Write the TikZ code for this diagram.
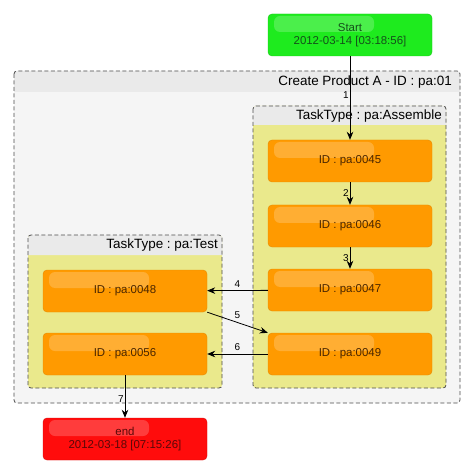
\documentclass[tikz,border=0pt]{standalone}
\usepackage{fontspec}
\setmainfont{Liberation Sans}
\usetikzlibrary{arrows.meta}
\frenchspacing

\definecolor{startgreen}{HTML}{1EEB1E}
\definecolor{startdark}{HTML}{14501A}
\definecolor{endred}{HTML}{FF0C0C}
\definecolor{enddark}{HTML}{5A0808}
\definecolor{taskorange}{HTML}{FF9A00}
\definecolor{taskbrown}{HTML}{4A2600}
\definecolor{grpyellow}{HTML}{EAE98C}
\definecolor{hdrgray}{HTML}{EAEAEA}
\definecolor{outerbg}{HTML}{F5F5F5}

\begin{document}
\begin{tikzpicture}[
    x=1bp, y=-1bp,
    every node/.style={font=\fontsize{11.5}{13.5}\selectfont, align=center, inner sep=2pt},
    box/.style={rounded corners=4bp, minimum width=164bp, minimum height=42bp,
        path picture={\fill[white, opacity=0.2, rounded corners=6bp]
            ([xshift=6bp, yshift=-2bp]path picture bounding box.north west) rectangle ++(100bp,-16bp);}},
    task/.style={box, fill=taskorange, draw=taskorange!90!black, text=taskbrown},
    startbox/.style={box, fill=startgreen, draw=startgreen!85!black, text=startdark},
    endbox/.style={box, fill=endred, draw=endred!85!black, text=enddark},
    grp/.style={draw=black!70, dash pattern=on 4bp off 2.5bp, line width=0.8pt, rounded corners=3bp},
    hdr/.style={font=\fontsize{13.5}{15}\selectfont, anchor=east, inner sep=1pt},
    num/.style={font=\fontsize{10}{11}\selectfont, inner sep=1pt},
    flow/.style={-{Stealth[length=8bp, width=6.5bp]}, line width=0.8pt}
]
    \useasboundingbox[fill=white] (0,0) rectangle (474,474);

    % Grupos
    \fill[outerbg, rounded corners=3bp] (14,71) rectangle (460,403);
    \fill[hdrgray] (14,92) [rounded corners=3bp] -- (14,71) -- (460,71) [sharp corners] -- (460,92) -- cycle;
    \draw[grp] (14,71) rectangle (460,403);
    \node[hdr] (outerhdr) at (453,82) {Create Product A - ID : pa:01};

    \fill[grpyellow, rounded corners=3bp] (253,106) rectangle (446,388);
    \fill[hdrgray] (253,125) [rounded corners=3bp] -- (253,106) -- (446,106) [sharp corners] -- (446,125) -- cycle;
    \draw[grp] (253,106) rectangle (446,388);
    \node[hdr] (asmhdr) at (443,116) {TaskType : pa:Assemble};

    \fill[grpyellow, rounded corners=3bp] (28,235) rectangle (222,388);
    \fill[hdrgray] (28,255) [rounded corners=3bp] -- (28,235) -- (222,235) [sharp corners] -- (222,255) -- cycle;
    \draw[grp] (28,235) rectangle (222,388);
    \node[hdr] (testhdr) at (219,245) {TaskType : pa:Test};

    % Tareas
    \node[startbox] (start) at (350,35)  {Start\\2012-03-14 [03:18:56]};
    \node[task]     (t45)   at (350,161) {ID : pa:0045};
    \node[task]     (t46)   at (350,226) {ID : pa:0046};
    \node[task]     (t47)   at (350,290) {ID : pa:0047};
    \node[task]     (t49)   at (350,354) {ID : pa:0049};
    \node[task]     (t48)   at (125,291) {ID : pa:0048};
    \node[task]     (t56)   at (125,354) {ID : pa:0056};
    \node[endbox]   (end)   at (125,439) {end\\2012-03-18 [07:15:26]};

    % Flujo
    \draw[flow] (start) -- node[num, left, pos=0.47] {1} (t45);
    \draw[flow] (t45) -- node[num, left] {2} (t46);
    \draw[flow] (t46) -- node[num, left] {3} (t47);
    \draw[flow] (t47) -- node[num, above=2bp] {4} (t48);
    \draw[flow] (t48.south east) -- node[num, above=3bp] {5} (t49.north west);
    \draw[flow] (t49) -- node[num, above=2bp] {6} (t56);
    \draw[flow] (t56) -- node[num, left, pos=0.55] {7} (end);
\end{tikzpicture}
\end{document}
